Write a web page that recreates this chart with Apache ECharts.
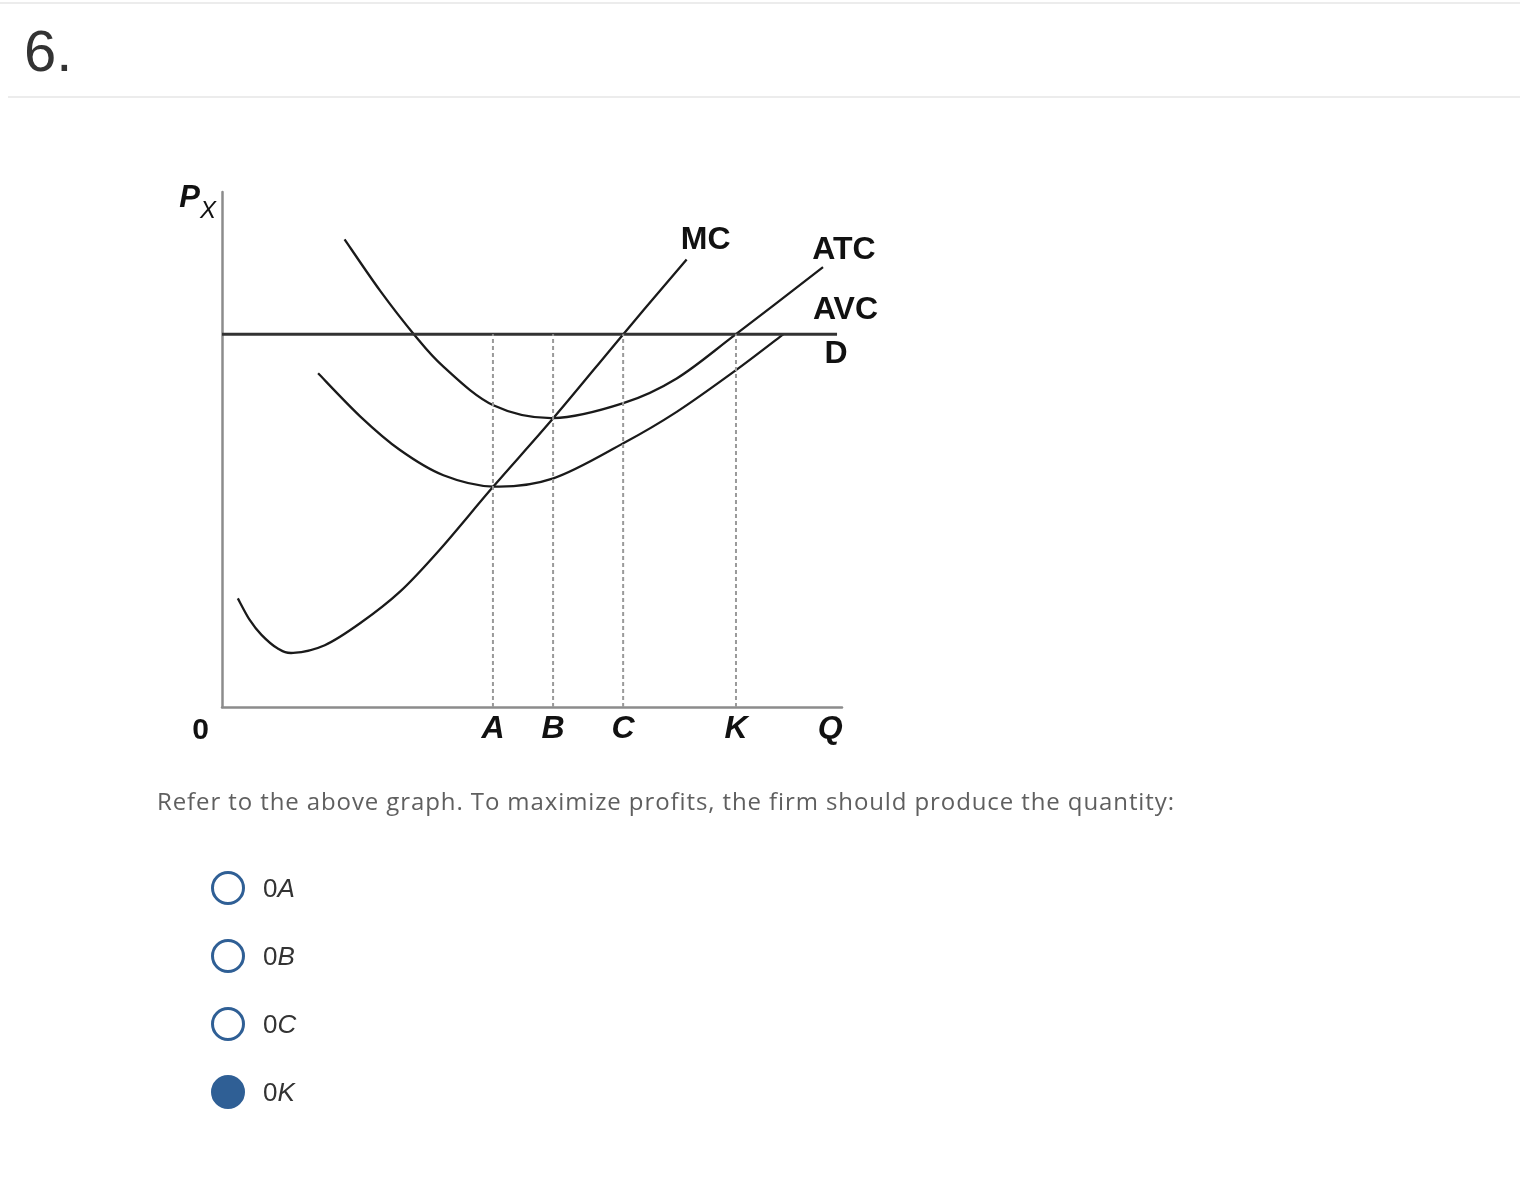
<!DOCTYPE html>
<html>
<head>
<meta charset="utf-8">
<title>6.</title>
<script src="https://cdn.jsdelivr.net/npm/echarts@6/dist/echarts.min.js"></script>
<style>
body{margin:0;background:#fff;font-family:"Liberation Sans",Arial,sans-serif;}
.page{position:relative;width:1520px;height:1180px;overflow:hidden;}
#chart{position:absolute;left:0;top:0;width:1520px;height:1180px;}
.topline{position:absolute;left:0;top:2px;width:1520px;height:2px;background:#ececec;}
.num{position:absolute;left:24px;top:22px;font-size:58px;line-height:1;color:#333;}
.rule{position:absolute;left:8px;top:96px;width:1512px;height:2px;background:#ececec;}
.question{position:absolute;left:157px;top:789px;font-family:"Open Sans",sans-serif;font-size:24px;letter-spacing:0.9px;line-height:1;color:#5f5f5f;white-space:nowrap;}
.opt{position:absolute;left:211px;height:34px;}
.radio{position:absolute;left:0;top:0;width:34px;height:34px;box-sizing:border-box;border:3.5px solid #2f5f95;border-radius:50%;}
.radio.on{background:#2f5f95;}
.opt span{position:absolute;left:52px;top:4px;font-size:26px;line-height:1;color:#333;white-space:nowrap;}
</style>
</head>
<body>
<div class="page">
  <div id="chart"></div>
  <div class="topline"></div>
  <div class="num">6.</div>
  <div class="rule"></div>
  <div class="question">Refer to the above graph. To maximize profits, the firm should produce the quantity:</div>
  <div class="opt" style="top:871px"><div class="radio"></div><span>0<i>A</i></span></div>
  <div class="opt" style="top:939px"><div class="radio"></div><span>0<i>B</i></span></div>
  <div class="opt" style="top:1007px"><div class="radio"></div><span>0<i>C</i></span></div>
  <div class="opt" style="top:1075px"><div class="radio on"></div><span>0<i>K</i></span></div>
</div>
<script>
// quantity ticks on the Q axis
const tickLabels = ['A', 'B', 'C', 'K', 'Q'];
const tickValues = [43.7, 53.4, 64.7, 82.9, 98.1];

// demand (price) line
const demandPrice = 72.4;
const demandEnd = 99.2;

// cost curves [Q, P]
const mcCurve = [[2.55, 21.1], [4.47, 16.9], [6.37, 14.0], [8.94, 11.4], [11.48, 10.5], [16.58, 12.0],
  [22.32, 16.3], [28.71, 22.4], [35.08, 30.5], [43.76, 42.8], [53.45, 56.1], [64.73, 72.4], [74.94, 86.9]];
const atcCurve = [[19.77, 90.8], [25.52, 80.8], [30.94, 72.4], [35.71, 66.1], [43.76, 58.6], [53.45, 56.1],
  [64.73, 59.0], [73.34, 63.8], [82.9, 72.4], [96.94, 85.4]];
const avcCurve = [[15.5, 64.8], [22.32, 56.4], [28.71, 49.9], [35.71, 45.0], [43.76, 42.8], [53.45, 44.4],
  [64.73, 51.2], [73.34, 57.3], [82.9, 65.4], [90.56, 72.4]];

const font = '"Liberation Sans", Arial, sans-serif';
const myChart = echarts.init(document.getElementById('chart'));

// catmull-rom through the points, after they went through the axes
function smoothPath(pts) {
  let d = 'M' + pts[0][0] + ',' + pts[0][1];
  for (let i = 0; i < pts.length - 1; i++) {
    const p0 = pts[i - 1] || pts[i], p1 = pts[i], p2 = pts[i + 1], p3 = pts[i + 2] || p2;
    const c1 = [p1[0] + (p2[0] - p0[0]) / 6, p1[1] + (p2[1] - p0[1]) / 6];
    const c2 = [p2[0] - (p3[0] - p1[0]) / 6, p2[1] - (p3[1] - p1[1]) / 6];
    d += ' C' + c1.join(',') + ' ' + c2.join(',') + ' ' + p2.join(',');
  }
  return d;
}

function curve(name, data) {
  return {
    name: name, type: 'custom', data: data, silent: true,
    encode: { x: 0, y: 1 },
    renderItem: (params, api) => {
      if (params.dataIndex !== 0) return null;
      const pts = data.map(d => api.coord(d));
      return {
        type: 'path', shape: { pathData: smoothPath(pts) },
        style: { fill: null, stroke: '#1a1a1a', lineWidth: 2.3 }
      };
    }
  };
}

const dropLines = tickValues.slice(0, 4).map(q => ({
  type: 'line', data: [[q, 0], [q, demandPrice]], showSymbol: false, silent: true,
  lineStyle: { color: '#9a9a9a', width: 2, type: [4, 3] }
}));

const last = arr => arr[arr.length - 1];

const option = {
  animation: false,
  grid: { left: 222, right: 678, top: 192, bottom: 473 },
  xAxis: {
    type: 'value', min: 0, max: 100,
    splitLine: { show: false }, axisTick: { show: false },
    axisLine: { lineStyle: { color: '#8c8c8c', width: 2.5 } },
    axisLabel: {
      customValues: tickValues, margin: 6,
      fontFamily: font, fontSize: 32, fontWeight: 'bold', fontStyle: 'italic', color: '#111',
      formatter: v => {
        let best = 0;
        tickValues.forEach((t, i) => { if (Math.abs(t - v) < Math.abs(tickValues[best] - v)) best = i; });
        return tickLabels[best];
      }
    }
  },
  yAxis: {
    type: 'value', min: 0, max: 100,
    splitLine: { show: false }, axisTick: { show: false },
    axisLine: { show: true, lineStyle: { color: '#8c8c8c', width: 2.5 } },
    axisLabel: {
      customValues: [0], formatter: '0', margin: 13, verticalAlign: 'top', padding: [9, 0, 0, 0],
      fontFamily: font, fontSize: 30, fontWeight: 'bold', color: '#111'
    },
    name: '{p|P}{x|X}', nameLocation: 'end', nameGap: 9,
    nameTextStyle: {
      align: 'right', verticalAlign: 'top', padding: [0, 6, 0, 0],
      rich: {
        p: { fontFamily: font, fontSize: 31, fontWeight: 'bold', fontStyle: 'italic', color: '#111', verticalAlign: 'top', lineHeight: 40 },
        x: { fontFamily: font, fontSize: 24, fontStyle: 'italic', color: '#111', verticalAlign: 'bottom', lineHeight: 40 }
      }
    }
  },
  series: [
    {
      name: 'D', type: 'line', data: [[0, demandPrice], [demandEnd, demandPrice]],
      showSymbol: false, silent: true, lineStyle: { color: '#333', width: 3 }
    },
    ...dropLines,
    curve('MC', mcCurve),
    curve('ATC', atcCurve),
    curve('AVC', avcCurve),
    {
      type: 'scatter', silent: true, symbol: 'circle', symbolSize: 0,
      itemStyle: { color: '#111', opacity: 1 },
      label: {
        show: true, position: 'inside', formatter: '{b}',
        fontFamily: font, fontSize: 32, fontWeight: 'bold', color: '#111', textBorderWidth: 0
      },
      data: [
        { name: 'MC', value: last(mcCurve), label: { offset: [19, -19] } },
        { name: 'ATC', value: last(atcCurve), label: { offset: [21, -17] } },
        { name: 'AVC', value: last(avcCurve), label: { offset: [62, -24] } },
        { name: 'D', value: [demandEnd, demandPrice], label: { offset: [-1, 20] } }
      ]
    }
  ]
};
myChart.setOption(option);
</script>
</body>
</html>
